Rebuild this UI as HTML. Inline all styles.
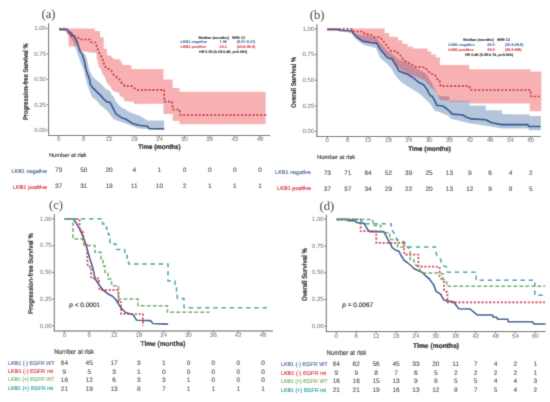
<!DOCTYPE html>
<html><head><meta charset="utf-8"><style>
html,body{margin:0;padding:0;background:#fff;overflow:hidden}
svg{display:block;font-family:"Liberation Sans",sans-serif;text-rendering:geometricPrecision}
</style></head><body>
<svg width="550" height="402" viewBox="0 0 550 402">
<defs><filter id="bl" x="0" y="0" width="550" height="402" filterUnits="userSpaceOnUse"><feConvolveMatrix order="3" kernelMatrix="0.025 0.085 0.025 0.085 0.56 0.085 0.025 0.085 0.025" edgeMode="duplicate"/></filter></defs>
<rect width="550" height="402" fill="#fff"/>
<g filter="url(#bl)"><rect width="550" height="402" fill="#fff"/>
<text x="41.5" y="17.8" font-size="12.5" fill="#222" text-anchor="start" font-weight="normal" font-family="Liberation Serif">(a)</text>
<line x1="48.6" y1="23.3" x2="48.6" y2="135.5" stroke="#5a5a5a" stroke-width="1.0"/>
<line x1="48.1" y1="135.5" x2="270.2" y2="135.5" stroke="#5a5a5a" stroke-width="1.0"/>
<line x1="46.6" y1="28.5" x2="48.6" y2="28.5" stroke="#5a5a5a" stroke-width="0.8"/>
<text x="46.0" y="30.2" text-anchor="end" font-size="6.1" fill="#808080" stroke="#808080" stroke-width="0.1">1.00</text>
<line x1="46.6" y1="53.9" x2="48.6" y2="53.9" stroke="#5a5a5a" stroke-width="0.8"/>
<text x="46.0" y="55.6" text-anchor="end" font-size="6.1" fill="#808080" stroke="#808080" stroke-width="0.1">0.75</text>
<line x1="46.6" y1="79.3" x2="48.6" y2="79.3" stroke="#5a5a5a" stroke-width="0.8"/>
<text x="46.0" y="81.0" text-anchor="end" font-size="6.1" fill="#808080" stroke="#808080" stroke-width="0.1">0.50</text>
<line x1="46.6" y1="104.8" x2="48.6" y2="104.8" stroke="#5a5a5a" stroke-width="0.8"/>
<text x="46.0" y="106.5" text-anchor="end" font-size="6.1" fill="#808080" stroke="#808080" stroke-width="0.1">0.25</text>
<line x1="46.6" y1="130.2" x2="48.6" y2="130.2" stroke="#5a5a5a" stroke-width="0.8"/>
<text x="46.0" y="131.9" text-anchor="end" font-size="6.1" fill="#808080" stroke="#808080" stroke-width="0.1">0.00</text>
<line x1="58.6" y1="135.5" x2="58.6" y2="137.5" stroke="#5a5a5a" stroke-width="0.8"/>
<text x="58.6" y="141.2" text-anchor="middle" font-size="6.1" fill="#808080" stroke="#808080" stroke-width="0.1">0</text>
<line x1="83.8" y1="135.5" x2="83.8" y2="137.5" stroke="#5a5a5a" stroke-width="0.8"/>
<text x="83.8" y="141.2" text-anchor="middle" font-size="6.1" fill="#808080" stroke="#808080" stroke-width="0.1">6</text>
<line x1="109.0" y1="135.5" x2="109.0" y2="137.5" stroke="#5a5a5a" stroke-width="0.8"/>
<text x="109.0" y="141.2" text-anchor="middle" font-size="6.1" fill="#808080" stroke="#808080" stroke-width="0.1">12</text>
<line x1="134.2" y1="135.5" x2="134.2" y2="137.5" stroke="#5a5a5a" stroke-width="0.8"/>
<text x="134.2" y="141.2" text-anchor="middle" font-size="6.1" fill="#808080" stroke="#808080" stroke-width="0.1">18</text>
<line x1="159.4" y1="135.5" x2="159.4" y2="137.5" stroke="#5a5a5a" stroke-width="0.8"/>
<text x="159.4" y="141.2" text-anchor="middle" font-size="6.1" fill="#808080" stroke="#808080" stroke-width="0.1">24</text>
<line x1="184.6" y1="135.5" x2="184.6" y2="137.5" stroke="#5a5a5a" stroke-width="0.8"/>
<text x="184.6" y="141.2" text-anchor="middle" font-size="6.1" fill="#808080" stroke="#808080" stroke-width="0.1">30</text>
<line x1="209.7" y1="135.5" x2="209.7" y2="137.5" stroke="#5a5a5a" stroke-width="0.8"/>
<text x="209.7" y="141.2" text-anchor="middle" font-size="6.1" fill="#808080" stroke="#808080" stroke-width="0.1">36</text>
<line x1="234.9" y1="135.5" x2="234.9" y2="137.5" stroke="#5a5a5a" stroke-width="0.8"/>
<text x="234.9" y="141.2" text-anchor="middle" font-size="6.1" fill="#808080" stroke="#808080" stroke-width="0.1">42</text>
<line x1="260.1" y1="135.5" x2="260.1" y2="137.5" stroke="#5a5a5a" stroke-width="0.8"/>
<text x="260.1" y="141.2" text-anchor="middle" font-size="6.1" fill="#808080" stroke="#808080" stroke-width="0.1">48</text>
<polygon points="59.0,28.5 66.4,28.5 72.4,32.4 76.1,38.4 78.4,44.4 82.1,51.9 85.1,54.1 87.3,60.8 89.3,70.0 91.2,73.7 92.4,76.2 96.2,80.0 100.0,83.0 103.0,86.0 106.0,89.0 110.0,90.9 111.9,94.9 113.9,96.9 114.9,99.9 117.9,103.9 120.9,106.9 124.9,108.9 128.9,111.8 133.8,113.8 140.0,115.8 147.4,120.6 164.2,120.6 164.2,130.2 139.0,128.5 130.0,125.3 121.6,122.0 113.9,119.5 110.9,115.8 108.0,111.8 104.0,107.9 100.0,104.9 96.2,99.9 92.4,97.4 90.0,92.4 87.5,84.9 85.0,76.2 83.7,70.0 79.9,60.8 76.9,51.9 73.9,42.9 69.4,35.4 64.9,31.0 59.0,31.0" fill="#2f5e9e" fill-opacity="0.36" stroke="none"/>
<polygon points="68.5,28.5 94.8,28.5 94.8,31.0 100.0,31.0 100.0,37.0 103.7,37.5 103.7,48.5 107.0,49.0 107.0,55.0 110.5,55.5 114.0,59.0 120.0,59.5 123.0,65.0 131.5,65.0 131.5,69.0 163.4,69.0 163.4,79.6 172.7,79.6 172.7,88.0 179.5,88.0 179.5,91.8 265.7,91.8 265.7,124.3 179.5,124.3 179.5,121.0 172.7,121.0 172.7,114.1 163.4,114.1 163.4,103.8 134.0,103.9 133.8,101.9 123.9,100.9 123.9,97.9 119.9,95.9 118.9,92.9 112.9,90.9 110.0,86.0 107.0,83.0 104.9,77.5 102.4,73.7 101.1,70.0 98.7,66.2 97.5,60.0 96.4,57.9 96.4,52.9 90.3,52.6 79.9,51.0 79.9,46.6 68.5,46.6 68.5,30.0" fill="#e8262d" fill-opacity="0.36" stroke="none"/>
<polyline points="59.3,29.4 66.4,29.5 70.9,33.2 74.6,36.9 77.6,42.9 79.9,51.1 82.1,54.1 84.3,60.8 86.2,70.0 87.5,73.7 89.3,78.7 90.6,84.9 92.4,87.4 96.2,91.1 100.0,94.9 102.0,96.9 105.0,100.4 107.0,101.9 110.0,102.4 111.9,105.9 113.9,109.9 115.9,113.8 118.9,115.8 121.9,117.8 125.9,119.3 132.5,123.4 139.0,125.3 147.4,126.2 149.3,128.7 164.2,128.7" fill="none" stroke="#22508f" stroke-width="1.6" stroke-linejoin="round"/>
<polyline points="59.4,28.7 67.4,28.7 68.7,34.0 71.2,35.8 74.9,36.4 77.4,37.0 80.0,39.5 90.0,39.5 91.5,42.5 95.5,42.5 97.0,47.0 99.0,52.5 101.0,56.0 103.0,60.0 104.3,65.6 106.8,68.1 111.2,70.6 113.7,74.9 119.9,79.9 121.7,83.0 124.9,86.1 132.3,86.1 134.8,88.6 137.3,89.9 164.0,89.9 164.5,101.6 172.0,101.6 172.8,109.5 179.5,109.5 180.5,115.1 266.6,115.1" fill="none" stroke="#cc1f3d" stroke-width="1.7" stroke-linejoin="round" stroke-dasharray="2.1 1.75"/>
<text x="198.6" y="38.5" font-size="3.8" fill="#111" text-anchor="start" font-weight="bold" stroke="#111" stroke-width="0.08" >Median (months)</text>
<text x="232.3" y="38.5" font-size="3.8" fill="#111" text-anchor="start" font-weight="bold" stroke="#111" stroke-width="0.08" >95% CI</text>
<text x="180.5" y="43.3" font-size="3.8" fill="#3a62a8" text-anchor="start" font-weight="bold" stroke="#3a62a8" stroke-width="0.08" >LKB1 negative</text>
<text x="219.5" y="43.3" font-size="3.8" fill="#3a62a8" text-anchor="start" font-weight="bold" stroke="#3a62a8" stroke-width="0.08" >7.36</text>
<text x="236.8" y="43.3" font-size="3.8" fill="#3a62a8" text-anchor="start" font-weight="bold" stroke="#3a62a8" stroke-width="0.08" >(6.57-8.17)</text>
<text x="180.5" y="48.2" font-size="3.8" fill="#d8262d" text-anchor="start" font-weight="bold" stroke="#d8262d" stroke-width="0.08" >LKB1 positive</text>
<text x="219.5" y="48.2" font-size="3.8" fill="#d8262d" text-anchor="start" font-weight="bold" stroke="#d8262d" stroke-width="0.08" >13.1</text>
<text x="236.8" y="48.2" font-size="3.8" fill="#d8262d" text-anchor="start" font-weight="bold" stroke="#d8262d" stroke-width="0.08" >(10.9-25.0)</text>
<text x="199" y="53.3" font-size="3.7" fill="#111" text-anchor="start" font-weight="bold" stroke="#111" stroke-width="0.08" >HR 0.29 (0.18-0.48, p&lt;0.001)</text>
<text x="138.2" y="149.2" font-size="6.8" fill="#111" text-anchor="start" font-weight="bold" textLength="42.3" lengthAdjust="spacingAndGlyphs" stroke="#111" stroke-width="0.2" >Time (months)</text>
<text transform="translate(28.3,81.7) rotate(-90)" x="-38.3" font-size="7.0" font-weight="bold" fill="#111" stroke="#111" stroke-width="0.15" textLength="76.6" lengthAdjust="spacingAndGlyphs">Progression-free Survival %</text>
<text x="48.9" y="157.1" font-size="5.8" fill="#333" text-anchor="start" font-weight="normal" textLength="37.6" lengthAdjust="spacingAndGlyphs" stroke="#333" stroke-width="0.18" >Number at risk</text>
<text x="11.5" y="173.3" font-size="5.6" fill="#5a6ea6" text-anchor="start" font-weight="normal" textLength="35.6" lengthAdjust="spacingAndGlyphs" stroke="#5a6ea6" stroke-width="0.2" >LKB1 negative</text>
<text x="12.7" y="188.6" font-size="5.6" fill="#dc3540" text-anchor="start" font-weight="normal" textLength="34.4" lengthAdjust="spacingAndGlyphs" stroke="#dc3540" stroke-width="0.2" >LKB1 positive</text>
<text x="58.6" y="171.9" font-size="6.5" fill="#3a3a3a" text-anchor="middle" font-weight="normal" stroke="#3a3a3a" stroke-width="0.1" dy="0.5">73</text>
<text x="83.8" y="171.9" font-size="6.5" fill="#3a3a3a" text-anchor="middle" font-weight="normal" stroke="#3a3a3a" stroke-width="0.1" dy="0.5">50</text>
<text x="109.0" y="171.9" font-size="6.5" fill="#3a3a3a" text-anchor="middle" font-weight="normal" stroke="#3a3a3a" stroke-width="0.1" dy="0.5">20</text>
<text x="134.2" y="171.9" font-size="6.5" fill="#3a3a3a" text-anchor="middle" font-weight="normal" stroke="#3a3a3a" stroke-width="0.1" dy="0.5">4</text>
<text x="159.4" y="171.9" font-size="6.5" fill="#3a3a3a" text-anchor="middle" font-weight="normal" stroke="#3a3a3a" stroke-width="0.1" dy="0.5">1</text>
<text x="184.6" y="171.9" font-size="6.5" fill="#3a3a3a" text-anchor="middle" font-weight="normal" stroke="#3a3a3a" stroke-width="0.1" dy="0.5">0</text>
<text x="209.7" y="171.9" font-size="6.5" fill="#3a3a3a" text-anchor="middle" font-weight="normal" stroke="#3a3a3a" stroke-width="0.1" dy="0.5">0</text>
<text x="234.9" y="171.9" font-size="6.5" fill="#3a3a3a" text-anchor="middle" font-weight="normal" stroke="#3a3a3a" stroke-width="0.1" dy="0.5">0</text>
<text x="260.1" y="171.9" font-size="6.5" fill="#3a3a3a" text-anchor="middle" font-weight="normal" stroke="#3a3a3a" stroke-width="0.1" dy="0.5">0</text>
<text x="58.6" y="187.6" font-size="6.5" fill="#3a3a3a" text-anchor="middle" font-weight="normal" stroke="#3a3a3a" stroke-width="0.1" dy="0.5">37</text>
<text x="83.8" y="187.6" font-size="6.5" fill="#3a3a3a" text-anchor="middle" font-weight="normal" stroke="#3a3a3a" stroke-width="0.1" dy="0.5">31</text>
<text x="109.0" y="187.6" font-size="6.5" fill="#3a3a3a" text-anchor="middle" font-weight="normal" stroke="#3a3a3a" stroke-width="0.1" dy="0.5">19</text>
<text x="134.2" y="187.6" font-size="6.5" fill="#3a3a3a" text-anchor="middle" font-weight="normal" stroke="#3a3a3a" stroke-width="0.1" dy="0.5">11</text>
<text x="159.4" y="187.6" font-size="6.5" fill="#3a3a3a" text-anchor="middle" font-weight="normal" stroke="#3a3a3a" stroke-width="0.1" dy="0.5">10</text>
<text x="184.6" y="187.6" font-size="6.5" fill="#3a3a3a" text-anchor="middle" font-weight="normal" stroke="#3a3a3a" stroke-width="0.1" dy="0.5">2</text>
<text x="209.7" y="187.6" font-size="6.5" fill="#3a3a3a" text-anchor="middle" font-weight="normal" stroke="#3a3a3a" stroke-width="0.1" dy="0.5">1</text>
<text x="234.9" y="187.6" font-size="6.5" fill="#3a3a3a" text-anchor="middle" font-weight="normal" stroke="#3a3a3a" stroke-width="0.1" dy="0.5">1</text>
<text x="260.1" y="187.6" font-size="6.5" fill="#3a3a3a" text-anchor="middle" font-weight="normal" stroke="#3a3a3a" stroke-width="0.1" dy="0.5">1</text>
<text x="309.8" y="18.5" font-size="12.5" fill="#222" text-anchor="start" font-weight="normal" font-family="Liberation Serif">(b)</text>
<line x1="316.9" y1="24.3" x2="316.9" y2="136.5" stroke="#5a5a5a" stroke-width="1.0"/>
<line x1="316.4" y1="136.5" x2="540.8" y2="136.5" stroke="#5a5a5a" stroke-width="1.0"/>
<line x1="314.9" y1="29.0" x2="316.9" y2="29.0" stroke="#5a5a5a" stroke-width="0.8"/>
<text x="314.29999999999995" y="30.7" text-anchor="end" font-size="6.1" fill="#808080" stroke="#808080" stroke-width="0.1">1.00</text>
<line x1="314.9" y1="54.6" x2="316.9" y2="54.6" stroke="#5a5a5a" stroke-width="0.8"/>
<text x="314.29999999999995" y="56.4" text-anchor="end" font-size="6.1" fill="#808080" stroke="#808080" stroke-width="0.1">0.75</text>
<line x1="314.9" y1="80.3" x2="316.9" y2="80.3" stroke="#5a5a5a" stroke-width="0.8"/>
<text x="314.29999999999995" y="82.0" text-anchor="end" font-size="6.1" fill="#808080" stroke="#808080" stroke-width="0.1">0.50</text>
<line x1="314.9" y1="105.9" x2="316.9" y2="105.9" stroke="#5a5a5a" stroke-width="0.8"/>
<text x="314.29999999999995" y="107.6" text-anchor="end" font-size="6.1" fill="#808080" stroke="#808080" stroke-width="0.1">0.25</text>
<line x1="314.9" y1="131.6" x2="316.9" y2="131.6" stroke="#5a5a5a" stroke-width="0.8"/>
<text x="314.29999999999995" y="133.3" text-anchor="end" font-size="6.1" fill="#808080" stroke="#808080" stroke-width="0.1">0.00</text>
<line x1="327.3" y1="136.5" x2="327.3" y2="138.5" stroke="#5a5a5a" stroke-width="0.8"/>
<text x="327.3" y="142.3" text-anchor="middle" font-size="6.1" fill="#808080" stroke="#808080" stroke-width="0.1">0</text>
<line x1="347.7" y1="136.5" x2="347.7" y2="138.5" stroke="#5a5a5a" stroke-width="0.8"/>
<text x="347.7" y="142.3" text-anchor="middle" font-size="6.1" fill="#808080" stroke="#808080" stroke-width="0.1">6</text>
<line x1="368.0" y1="136.5" x2="368.0" y2="138.5" stroke="#5a5a5a" stroke-width="0.8"/>
<text x="368.0" y="142.3" text-anchor="middle" font-size="6.1" fill="#808080" stroke="#808080" stroke-width="0.1">12</text>
<line x1="388.4" y1="136.5" x2="388.4" y2="138.5" stroke="#5a5a5a" stroke-width="0.8"/>
<text x="388.4" y="142.3" text-anchor="middle" font-size="6.1" fill="#808080" stroke="#808080" stroke-width="0.1">18</text>
<line x1="408.7" y1="136.5" x2="408.7" y2="138.5" stroke="#5a5a5a" stroke-width="0.8"/>
<text x="408.7" y="142.3" text-anchor="middle" font-size="6.1" fill="#808080" stroke="#808080" stroke-width="0.1">24</text>
<line x1="429.1" y1="136.5" x2="429.1" y2="138.5" stroke="#5a5a5a" stroke-width="0.8"/>
<text x="429.1" y="142.3" text-anchor="middle" font-size="6.1" fill="#808080" stroke="#808080" stroke-width="0.1">30</text>
<line x1="449.4" y1="136.5" x2="449.4" y2="138.5" stroke="#5a5a5a" stroke-width="0.8"/>
<text x="449.4" y="142.3" text-anchor="middle" font-size="6.1" fill="#808080" stroke="#808080" stroke-width="0.1">36</text>
<line x1="469.8" y1="136.5" x2="469.8" y2="138.5" stroke="#5a5a5a" stroke-width="0.8"/>
<text x="469.8" y="142.3" text-anchor="middle" font-size="6.1" fill="#808080" stroke="#808080" stroke-width="0.1">42</text>
<line x1="490.1" y1="136.5" x2="490.1" y2="138.5" stroke="#5a5a5a" stroke-width="0.8"/>
<text x="490.1" y="142.3" text-anchor="middle" font-size="6.1" fill="#808080" stroke="#808080" stroke-width="0.1">48</text>
<line x1="510.5" y1="136.5" x2="510.5" y2="138.5" stroke="#5a5a5a" stroke-width="0.8"/>
<text x="510.5" y="142.3" text-anchor="middle" font-size="6.1" fill="#808080" stroke="#808080" stroke-width="0.1">54</text>
<line x1="530.8" y1="136.5" x2="530.8" y2="138.5" stroke="#5a5a5a" stroke-width="0.8"/>
<text x="530.8" y="142.3" text-anchor="middle" font-size="6.1" fill="#808080" stroke="#808080" stroke-width="0.1">60</text>
<polygon points="327.0,28.5 338.7,28.5 351.9,30.7 354.9,33.0 359.4,34.4 363.9,35.2 369.9,35.9 375.8,37.4 378.8,40.4 380.0,42.5 383.5,46.1 387.1,50.8 391.8,53.2 395.4,56.7 400.1,60.3 406.0,62.0 411.0,65.5 415.5,68.0 419.9,69.9 426.1,73.6 430.0,80.0 434.0,87.0 437.0,94.0 440.0,96.1 449.5,96.5 449.5,100.7 469.6,100.7 469.6,105.5 485.8,105.5 485.8,110.3 502.0,110.3 502.0,114.1 529.7,114.5 529.7,116.0 540.8,116.0 540.8,130.3 528.7,130.3 528.7,128.4 502.0,128.4 490.6,126.5 470.5,123.6 451.5,118.9 448.6,116.0 440.0,112.2 437.5,111.5 435.0,111.0 430.0,103.6 426.0,100.0 421.1,95.0 417.4,92.3 411.2,88.5 404.9,84.8 400.0,81.1 395.0,75.0 391.8,69.0 387.0,63.5 383.5,61.0 380.0,57.5 377.3,51.6 375.8,47.9 369.9,46.4 363.9,44.9 359.4,41.9 354.9,38.2 351.9,33.7 347.5,32.2 338.7,31.0 327.0,31.0" fill="#2f5e9e" fill-opacity="0.36" stroke="none"/>
<polygon points="351.7,28.5 384.7,28.5 384.7,33.1 389.2,33.1 389.2,36.8 398.0,36.8 398.0,40.2 402.2,40.2 402.2,43.7 407.5,43.7 407.5,46.4 412.8,46.4 412.8,48.5 427.6,48.5 427.6,51.4 431.4,51.4 431.4,54.4 435.8,54.4 435.8,57.6 440.0,57.6 440.0,65.0 469.3,65.0 469.3,69.2 530.4,69.2 530.4,71.4 541.4,71.4 541.4,111.2 529.7,111.2 529.7,103.6 469.6,103.6 469.6,101.7 449.5,101.7 449.5,100.5 440.0,100.0 437.0,94.0 434.0,90.0 430.0,86.8 424.9,81.1 417.4,77.3 407.4,73.6 401.2,69.9 395.0,63.7 390.0,58.0 385.0,54.0 381.8,51.0 377.0,44.5 369.9,42.5 359.4,40.0 353.4,34.0 351.7,29.5" fill="#e8262d" fill-opacity="0.36" stroke="none"/>
<polyline points="327.1,29.4 337.7,29.4 340.2,30.5 351.9,30.7 353.4,33.7 356.4,36.7 359.4,38.9 362.4,41.2 366.9,41.9 371.3,42.7 376.6,43.1 378.1,45.6 380.0,49.0 383.0,52.6 385.9,56.1 388.9,58.5 391.8,58.5 394.2,62.6 396.5,66.2 398.9,71.0 402.5,72.4 407.4,74.2 413.7,78.0 418.6,82.3 423.6,84.8 427.3,89.8 429.8,95.0 432.5,96.7 435.0,101.1 436.8,105.4 439.3,105.5 443.8,106.5 448.6,110.3 452.4,114.1 462.9,115.0 466.0,117.0 471.5,118.9 485.8,119.8 491.5,122.7 502.0,124.6 527.8,124.6 528.7,126.5 540.8,126.5" fill="none" stroke="#22508f" stroke-width="1.6" stroke-linejoin="round"/>
<polyline points="327.1,28.8 351.7,28.8 353.6,31.5 362.9,31.5 364.8,34.3 370.4,34.3 374.1,37.1 380.0,37.2 383.5,41.4 387.1,46.1 390.6,50.8 396.5,51.4 401.3,56.7 403.6,60.3 410.7,63.8 415.5,66.8 424.9,67.4 430.0,73.1 435.0,75.0 436.8,78.7 439.3,80.0 440.0,83.1 440.6,86.2 469.3,86.2 470.3,90.0 530.4,90.0 531.0,96.5 541.0,96.5" fill="none" stroke="#cc1f3d" stroke-width="1.7" stroke-linejoin="round" stroke-dasharray="2.1 1.75"/>
<text x="463.3" y="41.0" font-size="3.8" fill="#111" text-anchor="start" font-weight="bold" stroke="#111" stroke-width="0.08" >Median (months)</text>
<text x="497.3" y="41.0" font-size="3.8" fill="#111" text-anchor="start" font-weight="bold" stroke="#111" stroke-width="0.08" >95% CI</text>
<text x="448.2" y="46.1" font-size="3.8" fill="#3a62a8" text-anchor="start" font-weight="bold" stroke="#3a62a8" stroke-width="0.08" >LKB1 negative</text>
<text x="487.3" y="46.1" font-size="3.8" fill="#3a62a8" text-anchor="start" font-weight="bold" stroke="#3a62a8" stroke-width="0.08" >26.3</text>
<text x="504.9" y="46.1" font-size="3.8" fill="#3a62a8" text-anchor="start" font-weight="bold" stroke="#3a62a8" stroke-width="0.08" >(20.9-29.9)</text>
<text x="448.2" y="51.0" font-size="3.8" fill="#d8262d" text-anchor="start" font-weight="bold" stroke="#d8262d" stroke-width="0.08" >LKB1 positive</text>
<text x="487.3" y="51.0" font-size="3.8" fill="#d8262d" text-anchor="start" font-weight="bold" stroke="#d8262d" stroke-width="0.08" >33.3</text>
<text x="504.9" y="51.0" font-size="3.8" fill="#d8262d" text-anchor="start" font-weight="bold" stroke="#d8262d" stroke-width="0.08" >(25.6-NR)</text>
<text x="464.9" y="56.1" font-size="3.7" fill="#111" text-anchor="start" font-weight="bold" stroke="#111" stroke-width="0.08" >HR 0.45 (0.28-0.74, p=0.001)</text>
<text x="408.2" y="151.3" font-size="6.8" fill="#111" text-anchor="start" font-weight="bold" textLength="42.7" lengthAdjust="spacingAndGlyphs" stroke="#111" stroke-width="0.2" >Time (months)</text>
<text transform="translate(296.3,82.25) rotate(-90)" x="-25.45" font-size="7.2" font-weight="bold" fill="#111" stroke="#111" stroke-width="0.15" textLength="50.9" lengthAdjust="spacingAndGlyphs">Overall Survival %</text>
<text x="317.1" y="158.6" font-size="5.8" fill="#333" text-anchor="start" font-weight="normal" textLength="38.1" lengthAdjust="spacingAndGlyphs" stroke="#333" stroke-width="0.18" >Number at risk</text>
<text x="275.1" y="174.0" font-size="5.6" fill="#5a6ea6" text-anchor="start" font-weight="normal" textLength="35.6" lengthAdjust="spacingAndGlyphs" stroke="#5a6ea6" stroke-width="0.2" >LKB1 negative</text>
<text x="277.1" y="189.8" font-size="5.6" fill="#dc3540" text-anchor="start" font-weight="normal" textLength="34.1" lengthAdjust="spacingAndGlyphs" stroke="#dc3540" stroke-width="0.2" >LKB1 positive</text>
<text x="327.3" y="174.0" font-size="6.5" fill="#3a3a3a" text-anchor="middle" font-weight="normal" stroke="#3a3a3a" stroke-width="0.1" dy="0.5">73</text>
<text x="347.7" y="174.0" font-size="6.5" fill="#3a3a3a" text-anchor="middle" font-weight="normal" stroke="#3a3a3a" stroke-width="0.1" dy="0.5">71</text>
<text x="368.0" y="174.0" font-size="6.5" fill="#3a3a3a" text-anchor="middle" font-weight="normal" stroke="#3a3a3a" stroke-width="0.1" dy="0.5">64</text>
<text x="388.4" y="174.0" font-size="6.5" fill="#3a3a3a" text-anchor="middle" font-weight="normal" stroke="#3a3a3a" stroke-width="0.1" dy="0.5">52</text>
<text x="408.7" y="174.0" font-size="6.5" fill="#3a3a3a" text-anchor="middle" font-weight="normal" stroke="#3a3a3a" stroke-width="0.1" dy="0.5">39</text>
<text x="429.1" y="174.0" font-size="6.5" fill="#3a3a3a" text-anchor="middle" font-weight="normal" stroke="#3a3a3a" stroke-width="0.1" dy="0.5">25</text>
<text x="449.4" y="174.0" font-size="6.5" fill="#3a3a3a" text-anchor="middle" font-weight="normal" stroke="#3a3a3a" stroke-width="0.1" dy="0.5">13</text>
<text x="469.8" y="174.0" font-size="6.5" fill="#3a3a3a" text-anchor="middle" font-weight="normal" stroke="#3a3a3a" stroke-width="0.1" dy="0.5">9</text>
<text x="490.1" y="174.0" font-size="6.5" fill="#3a3a3a" text-anchor="middle" font-weight="normal" stroke="#3a3a3a" stroke-width="0.1" dy="0.5">6</text>
<text x="510.5" y="174.0" font-size="6.5" fill="#3a3a3a" text-anchor="middle" font-weight="normal" stroke="#3a3a3a" stroke-width="0.1" dy="0.5">4</text>
<text x="530.8" y="174.0" font-size="6.5" fill="#3a3a3a" text-anchor="middle" font-weight="normal" stroke="#3a3a3a" stroke-width="0.1" dy="0.5">2</text>
<text x="327.3" y="190.3" font-size="6.5" fill="#3a3a3a" text-anchor="middle" font-weight="normal" stroke="#3a3a3a" stroke-width="0.1" dy="0.5">37</text>
<text x="347.7" y="190.3" font-size="6.5" fill="#3a3a3a" text-anchor="middle" font-weight="normal" stroke="#3a3a3a" stroke-width="0.1" dy="0.5">37</text>
<text x="368.0" y="190.3" font-size="6.5" fill="#3a3a3a" text-anchor="middle" font-weight="normal" stroke="#3a3a3a" stroke-width="0.1" dy="0.5">34</text>
<text x="388.4" y="190.3" font-size="6.5" fill="#3a3a3a" text-anchor="middle" font-weight="normal" stroke="#3a3a3a" stroke-width="0.1" dy="0.5">29</text>
<text x="408.7" y="190.3" font-size="6.5" fill="#3a3a3a" text-anchor="middle" font-weight="normal" stroke="#3a3a3a" stroke-width="0.1" dy="0.5">22</text>
<text x="429.1" y="190.3" font-size="6.5" fill="#3a3a3a" text-anchor="middle" font-weight="normal" stroke="#3a3a3a" stroke-width="0.1" dy="0.5">20</text>
<text x="449.4" y="190.3" font-size="6.5" fill="#3a3a3a" text-anchor="middle" font-weight="normal" stroke="#3a3a3a" stroke-width="0.1" dy="0.5">13</text>
<text x="469.8" y="190.3" font-size="6.5" fill="#3a3a3a" text-anchor="middle" font-weight="normal" stroke="#3a3a3a" stroke-width="0.1" dy="0.5">12</text>
<text x="490.1" y="190.3" font-size="6.5" fill="#3a3a3a" text-anchor="middle" font-weight="normal" stroke="#3a3a3a" stroke-width="0.1" dy="0.5">9</text>
<text x="510.5" y="190.3" font-size="6.5" fill="#3a3a3a" text-anchor="middle" font-weight="normal" stroke="#3a3a3a" stroke-width="0.1" dy="0.5">8</text>
<text x="530.8" y="190.3" font-size="6.5" fill="#3a3a3a" text-anchor="middle" font-weight="normal" stroke="#3a3a3a" stroke-width="0.1" dy="0.5">5</text>
<text x="49.1" y="208.6" font-size="12.5" fill="#222" text-anchor="start" font-weight="normal" font-family="Liberation Serif">(c)</text>
<line x1="54.3" y1="213.9" x2="54.3" y2="331.0" stroke="#5a5a5a" stroke-width="1.0"/>
<line x1="53.8" y1="331.0" x2="273.0" y2="331.0" stroke="#5a5a5a" stroke-width="1.0"/>
<line x1="52.3" y1="218.8" x2="54.3" y2="218.8" stroke="#5a5a5a" stroke-width="0.8"/>
<text x="51.699999999999996" y="220.5" text-anchor="end" font-size="6.1" fill="#808080" stroke="#808080" stroke-width="0.1">1.00</text>
<line x1="52.3" y1="245.6" x2="54.3" y2="245.6" stroke="#5a5a5a" stroke-width="0.8"/>
<text x="51.699999999999996" y="247.3" text-anchor="end" font-size="6.1" fill="#808080" stroke="#808080" stroke-width="0.1">0.75</text>
<line x1="52.3" y1="272.4" x2="54.3" y2="272.4" stroke="#5a5a5a" stroke-width="0.8"/>
<text x="51.699999999999996" y="274.1" text-anchor="end" font-size="6.1" fill="#808080" stroke="#808080" stroke-width="0.1">0.50</text>
<line x1="52.3" y1="299.1" x2="54.3" y2="299.1" stroke="#5a5a5a" stroke-width="0.8"/>
<text x="51.699999999999996" y="300.8" text-anchor="end" font-size="6.1" fill="#808080" stroke="#808080" stroke-width="0.1">0.25</text>
<line x1="52.3" y1="325.9" x2="54.3" y2="325.9" stroke="#5a5a5a" stroke-width="0.8"/>
<text x="51.699999999999996" y="327.6" text-anchor="end" font-size="6.1" fill="#808080" stroke="#808080" stroke-width="0.1">0.00</text>
<line x1="64.4" y1="331.0" x2="64.4" y2="333.0" stroke="#5a5a5a" stroke-width="0.8"/>
<text x="64.4" y="337.1" text-anchor="middle" font-size="6.1" fill="#808080" stroke="#808080" stroke-width="0.1">0</text>
<line x1="89.2" y1="331.0" x2="89.2" y2="333.0" stroke="#5a5a5a" stroke-width="0.8"/>
<text x="89.2" y="337.1" text-anchor="middle" font-size="6.1" fill="#808080" stroke="#808080" stroke-width="0.1">6</text>
<line x1="114.1" y1="331.0" x2="114.1" y2="333.0" stroke="#5a5a5a" stroke-width="0.8"/>
<text x="114.1" y="337.1" text-anchor="middle" font-size="6.1" fill="#808080" stroke="#808080" stroke-width="0.1">12</text>
<line x1="138.9" y1="331.0" x2="138.9" y2="333.0" stroke="#5a5a5a" stroke-width="0.8"/>
<text x="138.9" y="337.1" text-anchor="middle" font-size="6.1" fill="#808080" stroke="#808080" stroke-width="0.1">18</text>
<line x1="163.7" y1="331.0" x2="163.7" y2="333.0" stroke="#5a5a5a" stroke-width="0.8"/>
<text x="163.7" y="337.1" text-anchor="middle" font-size="6.1" fill="#808080" stroke="#808080" stroke-width="0.1">24</text>
<line x1="188.6" y1="331.0" x2="188.6" y2="333.0" stroke="#5a5a5a" stroke-width="0.8"/>
<text x="188.6" y="337.1" text-anchor="middle" font-size="6.1" fill="#808080" stroke="#808080" stroke-width="0.1">30</text>
<line x1="213.4" y1="331.0" x2="213.4" y2="333.0" stroke="#5a5a5a" stroke-width="0.8"/>
<text x="213.4" y="337.1" text-anchor="middle" font-size="6.1" fill="#808080" stroke="#808080" stroke-width="0.1">36</text>
<line x1="238.2" y1="331.0" x2="238.2" y2="333.0" stroke="#5a5a5a" stroke-width="0.8"/>
<text x="238.2" y="337.1" text-anchor="middle" font-size="6.1" fill="#808080" stroke="#808080" stroke-width="0.1">42</text>
<line x1="263.0" y1="331.0" x2="263.0" y2="333.0" stroke="#5a5a5a" stroke-width="0.8"/>
<text x="263.0" y="337.1" text-anchor="middle" font-size="6.1" fill="#808080" stroke="#808080" stroke-width="0.1">48</text>
<polyline points="64.5,218.8 73.0,218.8 75.9,222.6 80.2,229.9 83.1,237.0 85.9,244.3 87.4,250.0 90.3,260.1 93.1,268.8 95.0,278.7 99.4,285.3 103.7,290.7 108.1,294.0 112.5,296.2 115.7,299.5 119.0,304.9 122.3,309.3 125.5,312.5 133.2,314.7 136.5,320.2 150.6,320.6 152.8,323.5 168.1,324.1" fill="none" stroke="#22508f" stroke-width="1.6" stroke-linejoin="round"/>
<polyline points="64.5,218.8 79.5,218.8 79.5,230.7 83.0,230.7 84.0,242.6 86.8,243.5 87.2,254.5 87.6,266.4 91.0,267.0 91.3,278.3 99.0,278.3 99.5,290.2 118.5,290.2 118.5,302.1 121.0,302.1 121.0,314.0 142.9,314.0 142.9,325.9" fill="none" stroke="#cc1f3d" stroke-width="1.7" stroke-linejoin="round" stroke-dasharray="2.1 1.75"/>
<polyline points="64.5,218.8 73.0,218.8 73.0,238.9 82.5,238.9 84.0,245.6 95.0,245.6 95.0,252.3 101.0,252.3 101.0,259.0 103.0,259.0 103.0,265.7 105.0,265.7 105.0,272.4 108.0,272.4 108.0,279.0 111.5,279.0 111.5,285.7 118.5,285.7 118.5,299.1 138.0,299.1 138.0,305.8 167.5,305.8 167.5,312.3 209.5,312.3" fill="none" stroke="#64a858" stroke-width="1.5" stroke-linejoin="round" stroke-dasharray="3.8 2.2"/>
<polyline points="64.5,218.8 102.5,218.8 102.5,223.9 106.5,223.9 106.5,229.0 108.2,229.0 108.2,234.1 109.0,234.1 109.0,239.2 110.0,239.2 110.0,244.0 115.8,244.0 115.8,249.4 124.7,249.4 124.7,254.5 127.0,254.5 127.0,259.6 128.6,259.6 128.6,264.0 168.0,264.0 168.0,281.0 175.0,281.0 175.0,285.0 176.5,285.0 176.5,291.0 177.3,291.0 177.3,298.5 184.0,298.5 184.0,307.8 268.4,307.8" fill="none" stroke="#26a0a8" stroke-width="1.5" stroke-linejoin="round" stroke-dasharray="4.4 3.8"/>
<text x="69.3" y="307.0" font-size="6.5" fill="#222" stroke="#222" stroke-width="0.15"><tspan font-style="italic">p</tspan> &lt; 0.0001</text>
<text x="140.5" y="346.3" font-size="7.0" fill="#111" text-anchor="start" font-weight="bold" textLength="45" lengthAdjust="spacingAndGlyphs" stroke="#111" stroke-width="0.2" >Time (months)</text>
<text transform="translate(33.3,273.55) rotate(-90)" x="-40.35" font-size="7.2" font-weight="bold" fill="#111" stroke="#111" stroke-width="0.15" textLength="80.7" lengthAdjust="spacingAndGlyphs">Progression-free Survival %</text>
<text x="54.2" y="354.3" font-size="6.8" fill="#333" text-anchor="start" font-weight="normal" textLength="39.9" lengthAdjust="spacingAndGlyphs" stroke="#333" stroke-width="0.15" >Number at risk</text>
<text x="8.0" y="365.2" font-size="5.6" fill="#5a6ea6" text-anchor="start" font-weight="normal" textLength="46.5" lengthAdjust="spacingAndGlyphs" stroke="#5a6ea6" stroke-width="0.2" >LKB1 (-) EGFR WT</text>
<text x="64.4" y="364.5" font-size="6.5" fill="#3a3a3a" text-anchor="middle" font-weight="normal" stroke="#3a3a3a" stroke-width="0.1" dy="0.5">64</text>
<text x="89.2" y="364.5" font-size="6.5" fill="#3a3a3a" text-anchor="middle" font-weight="normal" stroke="#3a3a3a" stroke-width="0.1" dy="0.5">45</text>
<text x="114.1" y="364.5" font-size="6.5" fill="#3a3a3a" text-anchor="middle" font-weight="normal" stroke="#3a3a3a" stroke-width="0.1" dy="0.5">17</text>
<text x="138.9" y="364.5" font-size="6.5" fill="#3a3a3a" text-anchor="middle" font-weight="normal" stroke="#3a3a3a" stroke-width="0.1" dy="0.5">3</text>
<text x="163.7" y="364.5" font-size="6.5" fill="#3a3a3a" text-anchor="middle" font-weight="normal" stroke="#3a3a3a" stroke-width="0.1" dy="0.5">1</text>
<text x="188.6" y="364.5" font-size="6.5" fill="#3a3a3a" text-anchor="middle" font-weight="normal" stroke="#3a3a3a" stroke-width="0.1" dy="0.5">0</text>
<text x="213.4" y="364.5" font-size="6.5" fill="#3a3a3a" text-anchor="middle" font-weight="normal" stroke="#3a3a3a" stroke-width="0.1" dy="0.5">0</text>
<text x="238.2" y="364.5" font-size="6.5" fill="#3a3a3a" text-anchor="middle" font-weight="normal" stroke="#3a3a3a" stroke-width="0.1" dy="0.5">0</text>
<text x="263.0" y="364.5" font-size="6.5" fill="#3a3a3a" text-anchor="middle" font-weight="normal" stroke="#3a3a3a" stroke-width="0.1" dy="0.5">0</text>
<text x="8.0" y="373.2" font-size="5.6" fill="#dc3540" text-anchor="start" font-weight="normal" textLength="45.0" lengthAdjust="spacingAndGlyphs" stroke="#dc3540" stroke-width="0.2" >LKB1 (-) EGFR mt</text>
<text x="64.4" y="373.3" font-size="6.5" fill="#3a3a3a" text-anchor="middle" font-weight="normal" stroke="#3a3a3a" stroke-width="0.1" dy="0.5">9</text>
<text x="89.2" y="373.3" font-size="6.5" fill="#3a3a3a" text-anchor="middle" font-weight="normal" stroke="#3a3a3a" stroke-width="0.1" dy="0.5">5</text>
<text x="114.1" y="373.3" font-size="6.5" fill="#3a3a3a" text-anchor="middle" font-weight="normal" stroke="#3a3a3a" stroke-width="0.1" dy="0.5">3</text>
<text x="138.9" y="373.3" font-size="6.5" fill="#3a3a3a" text-anchor="middle" font-weight="normal" stroke="#3a3a3a" stroke-width="0.1" dy="0.5">1</text>
<text x="163.7" y="373.3" font-size="6.5" fill="#3a3a3a" text-anchor="middle" font-weight="normal" stroke="#3a3a3a" stroke-width="0.1" dy="0.5">0</text>
<text x="188.6" y="373.3" font-size="6.5" fill="#3a3a3a" text-anchor="middle" font-weight="normal" stroke="#3a3a3a" stroke-width="0.1" dy="0.5">0</text>
<text x="213.4" y="373.3" font-size="6.5" fill="#3a3a3a" text-anchor="middle" font-weight="normal" stroke="#3a3a3a" stroke-width="0.1" dy="0.5">0</text>
<text x="238.2" y="373.3" font-size="6.5" fill="#3a3a3a" text-anchor="middle" font-weight="normal" stroke="#3a3a3a" stroke-width="0.1" dy="0.5">0</text>
<text x="263.0" y="373.3" font-size="6.5" fill="#3a3a3a" text-anchor="middle" font-weight="normal" stroke="#3a3a3a" stroke-width="0.1" dy="0.5">0</text>
<text x="8.0" y="381.2" font-size="5.6" fill="#86b86a" text-anchor="start" font-weight="normal" textLength="46.5" lengthAdjust="spacingAndGlyphs" stroke="#86b86a" stroke-width="0.2" >LKB1 (+) EGFR WT</text>
<text x="64.4" y="381.8" font-size="6.5" fill="#3a3a3a" text-anchor="middle" font-weight="normal" stroke="#3a3a3a" stroke-width="0.1" dy="0.5">16</text>
<text x="89.2" y="381.8" font-size="6.5" fill="#3a3a3a" text-anchor="middle" font-weight="normal" stroke="#3a3a3a" stroke-width="0.1" dy="0.5">12</text>
<text x="114.1" y="381.8" font-size="6.5" fill="#3a3a3a" text-anchor="middle" font-weight="normal" stroke="#3a3a3a" stroke-width="0.1" dy="0.5">6</text>
<text x="138.9" y="381.8" font-size="6.5" fill="#3a3a3a" text-anchor="middle" font-weight="normal" stroke="#3a3a3a" stroke-width="0.1" dy="0.5">3</text>
<text x="163.7" y="381.8" font-size="6.5" fill="#3a3a3a" text-anchor="middle" font-weight="normal" stroke="#3a3a3a" stroke-width="0.1" dy="0.5">3</text>
<text x="188.6" y="381.8" font-size="6.5" fill="#3a3a3a" text-anchor="middle" font-weight="normal" stroke="#3a3a3a" stroke-width="0.1" dy="0.5">1</text>
<text x="213.4" y="381.8" font-size="6.5" fill="#3a3a3a" text-anchor="middle" font-weight="normal" stroke="#3a3a3a" stroke-width="0.1" dy="0.5">0</text>
<text x="238.2" y="381.8" font-size="6.5" fill="#3a3a3a" text-anchor="middle" font-weight="normal" stroke="#3a3a3a" stroke-width="0.1" dy="0.5">0</text>
<text x="263.0" y="381.8" font-size="6.5" fill="#3a3a3a" text-anchor="middle" font-weight="normal" stroke="#3a3a3a" stroke-width="0.1" dy="0.5">0</text>
<text x="8.0" y="389.7" font-size="5.6" fill="#2aa6a8" text-anchor="start" font-weight="normal" textLength="45.0" lengthAdjust="spacingAndGlyphs" stroke="#2aa6a8" stroke-width="0.2" >LKB1 (+) EGFR mt</text>
<text x="64.4" y="390.4" font-size="6.5" fill="#3a3a3a" text-anchor="middle" font-weight="normal" stroke="#3a3a3a" stroke-width="0.1" dy="0.5">21</text>
<text x="89.2" y="390.4" font-size="6.5" fill="#3a3a3a" text-anchor="middle" font-weight="normal" stroke="#3a3a3a" stroke-width="0.1" dy="0.5">19</text>
<text x="114.1" y="390.4" font-size="6.5" fill="#3a3a3a" text-anchor="middle" font-weight="normal" stroke="#3a3a3a" stroke-width="0.1" dy="0.5">13</text>
<text x="138.9" y="390.4" font-size="6.5" fill="#3a3a3a" text-anchor="middle" font-weight="normal" stroke="#3a3a3a" stroke-width="0.1" dy="0.5">8</text>
<text x="163.7" y="390.4" font-size="6.5" fill="#3a3a3a" text-anchor="middle" font-weight="normal" stroke="#3a3a3a" stroke-width="0.1" dy="0.5">7</text>
<text x="188.6" y="390.4" font-size="6.5" fill="#3a3a3a" text-anchor="middle" font-weight="normal" stroke="#3a3a3a" stroke-width="0.1" dy="0.5">1</text>
<text x="213.4" y="390.4" font-size="6.5" fill="#3a3a3a" text-anchor="middle" font-weight="normal" stroke="#3a3a3a" stroke-width="0.1" dy="0.5">1</text>
<text x="238.2" y="390.4" font-size="6.5" fill="#3a3a3a" text-anchor="middle" font-weight="normal" stroke="#3a3a3a" stroke-width="0.1" dy="0.5">1</text>
<text x="263.0" y="390.4" font-size="6.5" fill="#3a3a3a" text-anchor="middle" font-weight="normal" stroke="#3a3a3a" stroke-width="0.1" dy="0.5">1</text>
<text x="319.5" y="209.6" font-size="12.5" fill="#222" text-anchor="start" font-weight="normal" font-family="Liberation Serif">(d)</text>
<line x1="326.3" y1="214.6" x2="326.3" y2="331.6" stroke="#5a5a5a" stroke-width="1.0"/>
<line x1="325.8" y1="331.6" x2="545.6" y2="331.6" stroke="#5a5a5a" stroke-width="1.0"/>
<line x1="324.3" y1="219.2" x2="326.3" y2="219.2" stroke="#5a5a5a" stroke-width="0.8"/>
<text x="323.7" y="220.9" text-anchor="end" font-size="6.1" fill="#808080" stroke="#808080" stroke-width="0.1">1.00</text>
<line x1="324.3" y1="245.9" x2="326.3" y2="245.9" stroke="#5a5a5a" stroke-width="0.8"/>
<text x="323.7" y="247.6" text-anchor="end" font-size="6.1" fill="#808080" stroke="#808080" stroke-width="0.1">0.75</text>
<line x1="324.3" y1="272.7" x2="326.3" y2="272.7" stroke="#5a5a5a" stroke-width="0.8"/>
<text x="323.7" y="274.4" text-anchor="end" font-size="6.1" fill="#808080" stroke="#808080" stroke-width="0.1">0.50</text>
<line x1="324.3" y1="299.4" x2="326.3" y2="299.4" stroke="#5a5a5a" stroke-width="0.8"/>
<text x="323.7" y="301.1" text-anchor="end" font-size="6.1" fill="#808080" stroke="#808080" stroke-width="0.1">0.25</text>
<line x1="324.3" y1="326.2" x2="326.3" y2="326.2" stroke="#5a5a5a" stroke-width="0.8"/>
<text x="323.7" y="327.9" text-anchor="end" font-size="6.1" fill="#808080" stroke="#808080" stroke-width="0.1">0.00</text>
<line x1="336.3" y1="331.6" x2="336.3" y2="333.6" stroke="#5a5a5a" stroke-width="0.8"/>
<text x="336.3" y="338.3" text-anchor="middle" font-size="6.1" fill="#808080" stroke="#808080" stroke-width="0.1">0</text>
<line x1="356.2" y1="331.6" x2="356.2" y2="333.6" stroke="#5a5a5a" stroke-width="0.8"/>
<text x="356.2" y="338.3" text-anchor="middle" font-size="6.1" fill="#808080" stroke="#808080" stroke-width="0.1">6</text>
<line x1="376.1" y1="331.6" x2="376.1" y2="333.6" stroke="#5a5a5a" stroke-width="0.8"/>
<text x="376.1" y="338.3" text-anchor="middle" font-size="6.1" fill="#808080" stroke="#808080" stroke-width="0.1">12</text>
<line x1="396.0" y1="331.6" x2="396.0" y2="333.6" stroke="#5a5a5a" stroke-width="0.8"/>
<text x="396.0" y="338.3" text-anchor="middle" font-size="6.1" fill="#808080" stroke="#808080" stroke-width="0.1">18</text>
<line x1="415.9" y1="331.6" x2="415.9" y2="333.6" stroke="#5a5a5a" stroke-width="0.8"/>
<text x="415.9" y="338.3" text-anchor="middle" font-size="6.1" fill="#808080" stroke="#808080" stroke-width="0.1">24</text>
<line x1="435.8" y1="331.6" x2="435.8" y2="333.6" stroke="#5a5a5a" stroke-width="0.8"/>
<text x="435.8" y="338.3" text-anchor="middle" font-size="6.1" fill="#808080" stroke="#808080" stroke-width="0.1">30</text>
<line x1="455.7" y1="331.6" x2="455.7" y2="333.6" stroke="#5a5a5a" stroke-width="0.8"/>
<text x="455.7" y="338.3" text-anchor="middle" font-size="6.1" fill="#808080" stroke="#808080" stroke-width="0.1">36</text>
<line x1="475.6" y1="331.6" x2="475.6" y2="333.6" stroke="#5a5a5a" stroke-width="0.8"/>
<text x="475.6" y="338.3" text-anchor="middle" font-size="6.1" fill="#808080" stroke="#808080" stroke-width="0.1">42</text>
<line x1="495.5" y1="331.6" x2="495.5" y2="333.6" stroke="#5a5a5a" stroke-width="0.8"/>
<text x="495.5" y="338.3" text-anchor="middle" font-size="6.1" fill="#808080" stroke="#808080" stroke-width="0.1">48</text>
<line x1="515.4" y1="331.6" x2="515.4" y2="333.6" stroke="#5a5a5a" stroke-width="0.8"/>
<text x="515.4" y="338.3" text-anchor="middle" font-size="6.1" fill="#808080" stroke="#808080" stroke-width="0.1">54</text>
<line x1="535.3" y1="331.6" x2="535.3" y2="333.6" stroke="#5a5a5a" stroke-width="0.8"/>
<text x="535.3" y="338.3" text-anchor="middle" font-size="6.1" fill="#808080" stroke="#808080" stroke-width="0.1">60</text>
<polyline points="336.7,219.4 347.2,219.4 347.9,220.7 354.6,220.7 356.1,222.2 359.1,223.0 363.6,223.0 365.1,225.2 367.3,228.9 369.6,231.6 383.7,231.6 386.0,235.6 388.2,240.1 390.0,243.1 392.2,247.6 395.2,249.9 399.0,251.3 401.2,255.8 404.2,260.3 407.2,262.5 410.9,265.5 413.9,268.5 418.4,270.7 422.1,272.2 425.8,276.0 429.6,279.0 430.0,280.1 433.5,284.4 436.1,291.4 440.5,294.0 443.9,300.1 447.4,301.0 453.5,301.8 456.1,305.3 458.7,308.8 470.1,309.0 472.9,311.3 475.1,313.1 477.3,315.0 492.5,315.0 493.3,317.2 496.9,317.2 497.6,319.3 507.8,319.3 508.5,321.8 532.5,321.8 534.0,324.0 545.6,324.0" fill="none" stroke="#22508f" stroke-width="1.6" stroke-linejoin="round"/>
<polyline points="336.7,219.4 360.6,219.4 360.6,231.2 376.3,231.2 376.3,242.8 404.2,242.8 404.2,254.6 418.4,254.6 418.4,266.5 439.6,266.8 439.6,276.6 443.9,281.8 443.9,290.5 447.4,292.3 447.4,302.3 544.9,302.3" fill="none" stroke="#cc1f3d" stroke-width="1.7" stroke-linejoin="round" stroke-dasharray="2.1 1.75"/>
<polyline points="336.7,219.4 372.5,219.4 373.3,225.5 380.7,225.5 380.7,232.3 389.7,232.7 389.7,239.4 397.5,239.4 397.5,246.9 407.9,246.9 410.1,251.3 410.1,259.6 413.9,259.6 413.9,263.3 419.1,267.8 421.3,273.0 439.6,273.0 443.1,274.0 443.1,279.2 446.6,280.9 446.6,286.3 545.2,286.3" fill="none" stroke="#64a858" stroke-width="1.5" stroke-linejoin="round" stroke-dasharray="3.8 2.2"/>
<polyline points="336.7,219.4 361.3,219.4 361.3,223.7 391.2,223.7 391.2,228.9 394.2,233.4 396.7,239.4 404.2,241.6 407.2,246.9 435.5,246.9 435.5,251.3 437.0,255.7 440.5,259.2 442.2,265.3 446.6,267.0 447.4,272.2 476.2,272.2 476.2,280.2 534.8,280.2 534.8,295.2 545.2,295.2" fill="none" stroke="#26a0a8" stroke-width="1.5" stroke-linejoin="round" stroke-dasharray="4.4 3.8"/>
<text x="342.3" y="307.4" font-size="6.5" fill="#222" stroke="#222" stroke-width="0.15"><tspan font-style="italic">p</tspan> = 0.0067</text>
<text x="413.1" y="348.3" font-size="7.0" fill="#111" text-anchor="start" font-weight="bold" textLength="46" lengthAdjust="spacingAndGlyphs" stroke="#111" stroke-width="0.2" >Time (months)</text>
<text transform="translate(306.6,274.5) rotate(-90)" x="-26.5" font-size="7.4" font-weight="bold" fill="#111" stroke="#111" stroke-width="0.15" textLength="53" lengthAdjust="spacingAndGlyphs">Overall Survival %</text>
<text x="326.5" y="354.9" font-size="6.8" fill="#333" text-anchor="start" font-weight="normal" textLength="39.7" lengthAdjust="spacingAndGlyphs" stroke="#333" stroke-width="0.15" >Number at risk</text>
<text x="280.8" y="366.4" font-size="5.6" fill="#5a6ea6" text-anchor="start" font-weight="normal" textLength="46.8" lengthAdjust="spacingAndGlyphs" stroke="#5a6ea6" stroke-width="0.2" >LKB1 (-) EGFR WT</text>
<text x="336.3" y="365.6" font-size="6.5" fill="#3a3a3a" text-anchor="middle" font-weight="normal" stroke="#3a3a3a" stroke-width="0.1" dy="0.5">64</text>
<text x="356.2" y="365.6" font-size="6.5" fill="#3a3a3a" text-anchor="middle" font-weight="normal" stroke="#3a3a3a" stroke-width="0.1" dy="0.5">62</text>
<text x="376.1" y="365.6" font-size="6.5" fill="#3a3a3a" text-anchor="middle" font-weight="normal" stroke="#3a3a3a" stroke-width="0.1" dy="0.5">56</text>
<text x="396.0" y="365.6" font-size="6.5" fill="#3a3a3a" text-anchor="middle" font-weight="normal" stroke="#3a3a3a" stroke-width="0.1" dy="0.5">45</text>
<text x="415.9" y="365.6" font-size="6.5" fill="#3a3a3a" text-anchor="middle" font-weight="normal" stroke="#3a3a3a" stroke-width="0.1" dy="0.5">33</text>
<text x="435.8" y="365.6" font-size="6.5" fill="#3a3a3a" text-anchor="middle" font-weight="normal" stroke="#3a3a3a" stroke-width="0.1" dy="0.5">20</text>
<text x="455.7" y="365.6" font-size="6.5" fill="#3a3a3a" text-anchor="middle" font-weight="normal" stroke="#3a3a3a" stroke-width="0.1" dy="0.5">11</text>
<text x="475.6" y="365.6" font-size="6.5" fill="#3a3a3a" text-anchor="middle" font-weight="normal" stroke="#3a3a3a" stroke-width="0.1" dy="0.5">7</text>
<text x="495.5" y="365.6" font-size="6.5" fill="#3a3a3a" text-anchor="middle" font-weight="normal" stroke="#3a3a3a" stroke-width="0.1" dy="0.5">4</text>
<text x="515.4" y="365.6" font-size="6.5" fill="#3a3a3a" text-anchor="middle" font-weight="normal" stroke="#3a3a3a" stroke-width="0.1" dy="0.5">2</text>
<text x="535.3" y="365.6" font-size="6.5" fill="#3a3a3a" text-anchor="middle" font-weight="normal" stroke="#3a3a3a" stroke-width="0.1" dy="0.5">1</text>
<text x="280.8" y="374.7" font-size="5.6" fill="#dc3540" text-anchor="start" font-weight="normal" textLength="45.3" lengthAdjust="spacingAndGlyphs" stroke="#dc3540" stroke-width="0.2" >LKB1 (-) EGFR mt</text>
<text x="336.3" y="374.0" font-size="6.5" fill="#3a3a3a" text-anchor="middle" font-weight="normal" stroke="#3a3a3a" stroke-width="0.1" dy="0.5">9</text>
<text x="356.2" y="374.0" font-size="6.5" fill="#3a3a3a" text-anchor="middle" font-weight="normal" stroke="#3a3a3a" stroke-width="0.1" dy="0.5">9</text>
<text x="376.1" y="374.0" font-size="6.5" fill="#3a3a3a" text-anchor="middle" font-weight="normal" stroke="#3a3a3a" stroke-width="0.1" dy="0.5">8</text>
<text x="396.0" y="374.0" font-size="6.5" fill="#3a3a3a" text-anchor="middle" font-weight="normal" stroke="#3a3a3a" stroke-width="0.1" dy="0.5">7</text>
<text x="415.9" y="374.0" font-size="6.5" fill="#3a3a3a" text-anchor="middle" font-weight="normal" stroke="#3a3a3a" stroke-width="0.1" dy="0.5">6</text>
<text x="435.8" y="374.0" font-size="6.5" fill="#3a3a3a" text-anchor="middle" font-weight="normal" stroke="#3a3a3a" stroke-width="0.1" dy="0.5">5</text>
<text x="455.7" y="374.0" font-size="6.5" fill="#3a3a3a" text-anchor="middle" font-weight="normal" stroke="#3a3a3a" stroke-width="0.1" dy="0.5">2</text>
<text x="475.6" y="374.0" font-size="6.5" fill="#3a3a3a" text-anchor="middle" font-weight="normal" stroke="#3a3a3a" stroke-width="0.1" dy="0.5">2</text>
<text x="495.5" y="374.0" font-size="6.5" fill="#3a3a3a" text-anchor="middle" font-weight="normal" stroke="#3a3a3a" stroke-width="0.1" dy="0.5">2</text>
<text x="515.4" y="374.0" font-size="6.5" fill="#3a3a3a" text-anchor="middle" font-weight="normal" stroke="#3a3a3a" stroke-width="0.1" dy="0.5">2</text>
<text x="535.3" y="374.0" font-size="6.5" fill="#3a3a3a" text-anchor="middle" font-weight="normal" stroke="#3a3a3a" stroke-width="0.1" dy="0.5">1</text>
<text x="280.8" y="383.0" font-size="5.6" fill="#86b86a" text-anchor="start" font-weight="normal" textLength="46.8" lengthAdjust="spacingAndGlyphs" stroke="#86b86a" stroke-width="0.2" >LKB1 (+) EGFR WT</text>
<text x="336.3" y="382.5" font-size="6.5" fill="#3a3a3a" text-anchor="middle" font-weight="normal" stroke="#3a3a3a" stroke-width="0.1" dy="0.5">16</text>
<text x="356.2" y="382.5" font-size="6.5" fill="#3a3a3a" text-anchor="middle" font-weight="normal" stroke="#3a3a3a" stroke-width="0.1" dy="0.5">16</text>
<text x="376.1" y="382.5" font-size="6.5" fill="#3a3a3a" text-anchor="middle" font-weight="normal" stroke="#3a3a3a" stroke-width="0.1" dy="0.5">15</text>
<text x="396.0" y="382.5" font-size="6.5" fill="#3a3a3a" text-anchor="middle" font-weight="normal" stroke="#3a3a3a" stroke-width="0.1" dy="0.5">13</text>
<text x="415.9" y="382.5" font-size="6.5" fill="#3a3a3a" text-anchor="middle" font-weight="normal" stroke="#3a3a3a" stroke-width="0.1" dy="0.5">9</text>
<text x="435.8" y="382.5" font-size="6.5" fill="#3a3a3a" text-anchor="middle" font-weight="normal" stroke="#3a3a3a" stroke-width="0.1" dy="0.5">8</text>
<text x="455.7" y="382.5" font-size="6.5" fill="#3a3a3a" text-anchor="middle" font-weight="normal" stroke="#3a3a3a" stroke-width="0.1" dy="0.5">5</text>
<text x="475.6" y="382.5" font-size="6.5" fill="#3a3a3a" text-anchor="middle" font-weight="normal" stroke="#3a3a3a" stroke-width="0.1" dy="0.5">5</text>
<text x="495.5" y="382.5" font-size="6.5" fill="#3a3a3a" text-anchor="middle" font-weight="normal" stroke="#3a3a3a" stroke-width="0.1" dy="0.5">4</text>
<text x="515.4" y="382.5" font-size="6.5" fill="#3a3a3a" text-anchor="middle" font-weight="normal" stroke="#3a3a3a" stroke-width="0.1" dy="0.5">4</text>
<text x="535.3" y="382.5" font-size="6.5" fill="#3a3a3a" text-anchor="middle" font-weight="normal" stroke="#3a3a3a" stroke-width="0.1" dy="0.5">3</text>
<text x="280.8" y="391.8" font-size="5.6" fill="#2aa6a8" text-anchor="start" font-weight="normal" textLength="45.3" lengthAdjust="spacingAndGlyphs" stroke="#2aa6a8" stroke-width="0.2" >LKB1 (+) EGFR mt</text>
<text x="336.3" y="391.1" font-size="6.5" fill="#3a3a3a" text-anchor="middle" font-weight="normal" stroke="#3a3a3a" stroke-width="0.1" dy="0.5">21</text>
<text x="356.2" y="391.1" font-size="6.5" fill="#3a3a3a" text-anchor="middle" font-weight="normal" stroke="#3a3a3a" stroke-width="0.1" dy="0.5">21</text>
<text x="376.1" y="391.1" font-size="6.5" fill="#3a3a3a" text-anchor="middle" font-weight="normal" stroke="#3a3a3a" stroke-width="0.1" dy="0.5">19</text>
<text x="396.0" y="391.1" font-size="6.5" fill="#3a3a3a" text-anchor="middle" font-weight="normal" stroke="#3a3a3a" stroke-width="0.1" dy="0.5">16</text>
<text x="415.9" y="391.1" font-size="6.5" fill="#3a3a3a" text-anchor="middle" font-weight="normal" stroke="#3a3a3a" stroke-width="0.1" dy="0.5">13</text>
<text x="435.8" y="391.1" font-size="6.5" fill="#3a3a3a" text-anchor="middle" font-weight="normal" stroke="#3a3a3a" stroke-width="0.1" dy="0.5">12</text>
<text x="455.7" y="391.1" font-size="6.5" fill="#3a3a3a" text-anchor="middle" font-weight="normal" stroke="#3a3a3a" stroke-width="0.1" dy="0.5">8</text>
<text x="475.6" y="391.1" font-size="6.5" fill="#3a3a3a" text-anchor="middle" font-weight="normal" stroke="#3a3a3a" stroke-width="0.1" dy="0.5">7</text>
<text x="495.5" y="391.1" font-size="6.5" fill="#3a3a3a" text-anchor="middle" font-weight="normal" stroke="#3a3a3a" stroke-width="0.1" dy="0.5">5</text>
<text x="515.4" y="391.1" font-size="6.5" fill="#3a3a3a" text-anchor="middle" font-weight="normal" stroke="#3a3a3a" stroke-width="0.1" dy="0.5">4</text>
<text x="535.3" y="391.1" font-size="6.5" fill="#3a3a3a" text-anchor="middle" font-weight="normal" stroke="#3a3a3a" stroke-width="0.1" dy="0.5">2</text>
</g></svg></body></html>
